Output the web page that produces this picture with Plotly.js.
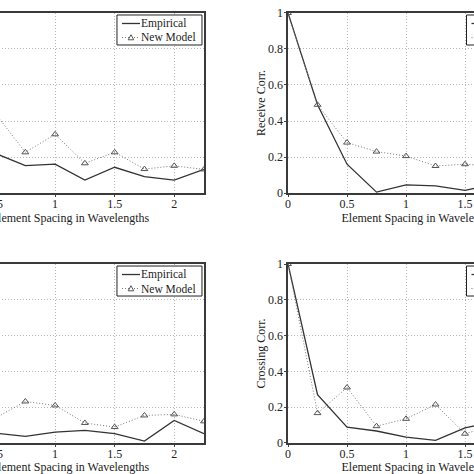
<!DOCTYPE html>
<html>
<head>
<meta charset="utf-8">
<script src="https://cdn.plot.ly/plotly-3.0.1.min.js"></script>
<style>
  html, body { margin: 0; padding: 0; width: 474px; height: 474px; overflow: hidden; background: #fff; }
  #plot { position: absolute; left: -140px; top: 0; width: 760px; height: 474px; }
</style>
</head>
<body>
<div id="plot"></div>
<script>
// Element spacing (wavelengths)
var spacingLeft  = [0.5, 0.75, 1, 1.25, 1.5, 1.75, 2, 2.25];
var spacingRight = [0, 0.25, 0.5, 0.75, 1, 1.25, 1.5, 1.75];

// Top-left panel
var tlEmpirical = [0.22, 0.152, 0.16, 0.072, 0.143, 0.091, 0.072, 0.131];
var tlNewModel  = [0.44, 0.226, 0.326, 0.165, 0.226, 0.133, 0.151, 0.131];

// Top-right panel (Receive Corr.)
var trEmpirical = [1, 0.49, 0.16, 0.005, 0.045, 0.04, 0.015, 0.05];
var trNewModel  = [1, 0.49, 0.28, 0.23, 0.205, 0.15, 0.16, 0.15];

// Bottom-left panel
var blEmpirical = [0.055, 0.037, 0.061, 0.071, 0.052, 0.011, 0.126, 0.052];
var blNewModel  = [0.14, 0.232, 0.21, 0.112, 0.089, 0.154, 0.16, 0.121];

// Bottom-right panel (Crossing Corr.)
var brEmpirical = [1, 0.27, 0.089, 0.067, 0.033, 0.015, 0.085, 0.12];
var brNewModel  = [1, 0.167, 0.31, 0.094, 0.135, 0.215, 0.052, 0.1];

var seriesNames = ['Empirical', 'New Model'];
var xTitle = 'Element Spacing in Wavelengths';
var yTitles = {tr: 'Receive Corr.', br: 'Crossing Corr.'};

var FONT = 'Liberation Serif, Times New Roman, serif';
var W = 760, H = 474;
var EMP_LINE = {color: '#333', width: 1.3};
var NM_LINE = {color: '#777', width: 1, dash: '1px,2px'};
var NM_COLOR = '#555';

function empTrace(x, y, xa, ya) {
  return {x: x, y: y, xaxis: xa, yaxis: ya, name: seriesNames[0], showlegend: false,
    type: 'scatter', mode: 'lines', line: EMP_LINE};
}
function nmTrace(x, y, xa, ya) {
  return {x: x, y: y, xaxis: xa, yaxis: ya, name: seriesNames[1], showlegend: false,
    type: 'scatter', mode: 'lines+markers', line: NM_LINE,
    marker: {symbol: 'triangle-up-open', size: 6, color: NM_COLOR, line: {width: 1, color: NM_COLOR}}};
}

var data = [
  empTrace(spacingLeft, tlEmpirical, 'x', 'y'),
  nmTrace(spacingLeft, tlNewModel, 'x', 'y'),
  empTrace(spacingRight, trEmpirical, 'x2', 'y2'),
  nmTrace(spacingRight, trNewModel, 'x2', 'y2'),
  empTrace(spacingLeft, blEmpirical, 'x3', 'y3'),
  nmTrace(spacingLeft, blNewModel, 'x3', 'y3'),
  empTrace(spacingRight, brEmpirical, 'x4', 'y4'),
  nmTrace(spacingRight, brNewModel, 'x4', 'y4')
];

var axisCommon = {
  showline: true, mirror: true, linecolor: '#3a3a3a', linewidth: 1.6,
  showgrid: true, gridcolor: '#b5b5b5', griddash: '1px,2px', gridwidth: 1, zeroline: false,
  ticks: 'outside', ticklen: 2, tickcolor: '#444',
  tickfont: {family: FONT, size: 12, color: '#222'}
};
function xAx(domain, anchor) {
  return Object.assign({}, axisCommon, {domain: domain, anchor: anchor, range: [0, 2.25], tick0: 0, dtick: 0.5,
    ticklabelstandoff: -3,
    title: {text: xTitle, standoff: 0, font: {family: FONT, size: 12, color: '#222'}}});
}
function yAx(domain, anchor, title) {
  var a = Object.assign({}, axisCommon, {domain: domain, anchor: anchor, range: [0, 1], tick0: 0, dtick: 0.2,
    ticklabelstandoff: -1});
  if (title) a.title = {text: title, standoff: 0, font: {family: FONT, size: 12, color: '#222'}};
  return a;
}

// Legend box drawn in the top-right corner of each panel
var shapes = [], annotations = [];
function px2x(p) { return p / W; }
function px2y(p) { return 1 - p / H; }
function addLegend(xd, yd) {
  var R = xd[1] * W, T = (1 - yd[1]) * H;
  shapes.push({type: 'rect', xref: 'paper', yref: 'paper',
    x0: px2x(R - 87), x1: px2x(R - 2), y0: px2y(T + 2), y1: px2y(T + 32),
    line: {color: '#222', width: 1}, fillcolor: '#fff', layer: 'above'});
  var r1 = T + 10.5, r2 = T + 24.5;
  shapes.push({type: 'line', xref: 'paper', yref: 'paper',
    x0: px2x(R - 82), x1: px2x(R - 64), y0: px2y(r1), y1: px2y(r1), line: EMP_LINE});
  shapes.push({type: 'line', xref: 'paper', yref: 'paper',
    x0: px2x(R - 82), x1: px2x(R - 64), y0: px2y(r2), y1: px2y(r2), line: NM_LINE});
  var cx = R - 73;
  shapes.push({type: 'path', xref: 'paper', yref: 'paper',
    path: 'M' + px2x(cx - 2.8) + ',' + px2y(r2 + 2.3) + ' L' + px2x(cx + 2.8) + ',' + px2y(r2 + 2.3) +
          ' L' + px2x(cx) + ',' + px2y(r2 - 2.8) + ' Z',
    line: {color: NM_COLOR, width: 1}, fillcolor: '#fff'});
  annotations.push({text: seriesNames[0], xref: 'paper', yref: 'paper', x: px2x(R - 64), y: px2y(r1),
    xanchor: 'left', yanchor: 'middle', showarrow: false, borderpad: 0,
    font: {family: FONT, size: 11.5, color: '#222'}});
  annotations.push({text: seriesNames[1], xref: 'paper', yref: 'paper', x: px2x(R - 64), y: px2y(r2),
    xanchor: 'left', yanchor: 'middle', showarrow: false, borderpad: 0,
    font: {family: FONT, size: 11.5, color: '#222'}});
}

var xL = [0.1, 0.4526], xR = [0.5632, 0.9125];
var yT = [0.5928, 0.9726], yB = [0.0654, 0.443];
addLegend(xL, yT); addLegend(xR, yT); addLegend(xL, yB); addLegend(xR, yB);

var layout = {
  width: W, height: H,
  margin: {l: 0, r: 0, t: 0, b: 0},
  paper_bgcolor: '#fff', plot_bgcolor: '#fff',
  showlegend: false,
  font: {family: FONT, size: 12, color: '#222'},
  xaxis: xAx(xL, 'y'), yaxis: yAx(yT, 'x'),
  xaxis2: xAx(xR, 'y2'), yaxis2: yAx(yT, 'x2', yTitles.tr),
  xaxis3: xAx(xL, 'y3'), yaxis3: yAx(yB, 'x3'),
  xaxis4: xAx(xR, 'y4'), yaxis4: yAx(yB, 'x4', yTitles.br),
  shapes: shapes,
  annotations: annotations
};

Plotly.newPlot('plot', data, layout, {staticPlot: true, displayModeBar: false});
</script>
</body>
</html>
